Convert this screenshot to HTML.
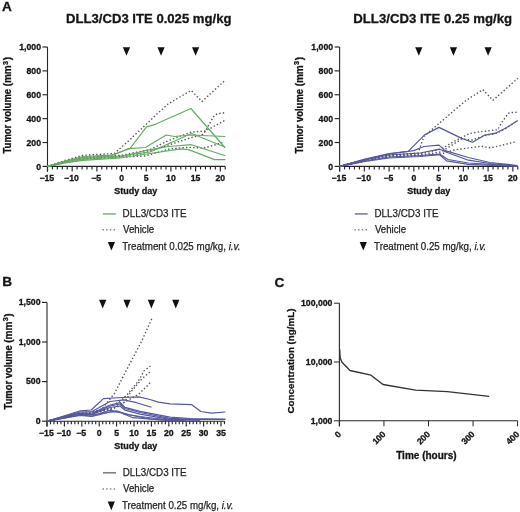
<!DOCTYPE html>
<html><head><meta charset="utf-8"><style>
html,body{margin:0;padding:0;background:#fff;}
svg{display:block;will-change:transform;}
text{font-family:"Liberation Sans", sans-serif;fill:#151515;stroke:#151515;stroke-width:0.3px;}
.leg{fill:#222;stroke:#222;stroke-width:0.25px;}
</style></head><body>
<svg width="520" height="512" viewBox="0 0 520 512">
<rect width="520" height="512" fill="#fff"/>
<line x1="47.50" y1="47.00" x2="47.50" y2="171.60" stroke="#262626" stroke-width="1.1"/>
<line x1="42.50" y1="166.40" x2="47.50" y2="166.40" stroke="#262626" stroke-width="1.15"/>
<text x="41.00" y="169.50" font-size="8.7" font-weight="bold" text-anchor="end" >0</text>
<line x1="42.50" y1="142.52" x2="47.50" y2="142.52" stroke="#262626" stroke-width="1.15"/>
<text x="41.00" y="145.62" font-size="8.7" font-weight="bold" text-anchor="end" >200</text>
<line x1="42.50" y1="118.64" x2="47.50" y2="118.64" stroke="#262626" stroke-width="1.15"/>
<text x="41.00" y="121.74" font-size="8.7" font-weight="bold" text-anchor="end" >400</text>
<line x1="42.50" y1="94.76" x2="47.50" y2="94.76" stroke="#262626" stroke-width="1.15"/>
<text x="41.00" y="97.86" font-size="8.7" font-weight="bold" text-anchor="end" >600</text>
<line x1="42.50" y1="70.88" x2="47.50" y2="70.88" stroke="#262626" stroke-width="1.15"/>
<text x="41.00" y="73.98" font-size="8.7" font-weight="bold" text-anchor="end" >800</text>
<line x1="42.50" y1="47.00" x2="47.50" y2="47.00" stroke="#262626" stroke-width="1.15"/>
<text x="41.00" y="50.10" font-size="8.7" font-weight="bold" text-anchor="end" >1,000</text>
<line x1="47.50" y1="166.40" x2="225.23" y2="166.40" stroke="#262626" stroke-width="1.1"/>
<line x1="47.50" y1="166.40" x2="47.50" y2="171.60" stroke="#262626" stroke-width="1.15"/>
<text x="46.80" y="181.00" font-size="8.7" font-weight="bold" text-anchor="middle" >−15</text>
<line x1="52.44" y1="166.40" x2="52.44" y2="169.40" stroke="#262626" stroke-width="1.15"/>
<line x1="57.37" y1="166.40" x2="57.37" y2="169.40" stroke="#262626" stroke-width="1.15"/>
<line x1="62.31" y1="166.40" x2="62.31" y2="169.40" stroke="#262626" stroke-width="1.15"/>
<line x1="67.25" y1="166.40" x2="67.25" y2="169.40" stroke="#262626" stroke-width="1.15"/>
<line x1="72.19" y1="166.40" x2="72.19" y2="171.60" stroke="#262626" stroke-width="1.15"/>
<text x="71.48" y="181.00" font-size="8.7" font-weight="bold" text-anchor="middle" >−10</text>
<line x1="77.12" y1="166.40" x2="77.12" y2="169.40" stroke="#262626" stroke-width="1.15"/>
<line x1="82.06" y1="166.40" x2="82.06" y2="169.40" stroke="#262626" stroke-width="1.15"/>
<line x1="87.00" y1="166.40" x2="87.00" y2="169.40" stroke="#262626" stroke-width="1.15"/>
<line x1="91.93" y1="166.40" x2="91.93" y2="169.40" stroke="#262626" stroke-width="1.15"/>
<line x1="96.87" y1="166.40" x2="96.87" y2="171.60" stroke="#262626" stroke-width="1.15"/>
<text x="96.17" y="181.00" font-size="8.7" font-weight="bold" text-anchor="middle" >−5</text>
<line x1="101.81" y1="166.40" x2="101.81" y2="169.40" stroke="#262626" stroke-width="1.15"/>
<line x1="106.74" y1="166.40" x2="106.74" y2="169.40" stroke="#262626" stroke-width="1.15"/>
<line x1="111.68" y1="166.40" x2="111.68" y2="169.40" stroke="#262626" stroke-width="1.15"/>
<line x1="116.62" y1="166.40" x2="116.62" y2="169.40" stroke="#262626" stroke-width="1.15"/>
<line x1="121.56" y1="166.40" x2="121.56" y2="171.60" stroke="#262626" stroke-width="1.15"/>
<text x="121.56" y="181.00" font-size="8.7" font-weight="bold" text-anchor="middle" >0</text>
<line x1="126.49" y1="166.40" x2="126.49" y2="169.40" stroke="#262626" stroke-width="1.15"/>
<line x1="131.43" y1="166.40" x2="131.43" y2="169.40" stroke="#262626" stroke-width="1.15"/>
<line x1="136.37" y1="166.40" x2="136.37" y2="169.40" stroke="#262626" stroke-width="1.15"/>
<line x1="141.30" y1="166.40" x2="141.30" y2="169.40" stroke="#262626" stroke-width="1.15"/>
<line x1="146.24" y1="166.40" x2="146.24" y2="171.60" stroke="#262626" stroke-width="1.15"/>
<text x="146.24" y="181.00" font-size="8.7" font-weight="bold" text-anchor="middle" >5</text>
<line x1="151.18" y1="166.40" x2="151.18" y2="169.40" stroke="#262626" stroke-width="1.15"/>
<line x1="156.11" y1="166.40" x2="156.11" y2="169.40" stroke="#262626" stroke-width="1.15"/>
<line x1="161.05" y1="166.40" x2="161.05" y2="169.40" stroke="#262626" stroke-width="1.15"/>
<line x1="165.99" y1="166.40" x2="165.99" y2="169.40" stroke="#262626" stroke-width="1.15"/>
<line x1="170.93" y1="166.40" x2="170.93" y2="171.60" stroke="#262626" stroke-width="1.15"/>
<text x="170.93" y="181.00" font-size="8.7" font-weight="bold" text-anchor="middle" >10</text>
<line x1="175.86" y1="166.40" x2="175.86" y2="169.40" stroke="#262626" stroke-width="1.15"/>
<line x1="180.80" y1="166.40" x2="180.80" y2="169.40" stroke="#262626" stroke-width="1.15"/>
<line x1="185.74" y1="166.40" x2="185.74" y2="169.40" stroke="#262626" stroke-width="1.15"/>
<line x1="190.67" y1="166.40" x2="190.67" y2="169.40" stroke="#262626" stroke-width="1.15"/>
<line x1="195.61" y1="166.40" x2="195.61" y2="171.60" stroke="#262626" stroke-width="1.15"/>
<text x="195.61" y="181.00" font-size="8.7" font-weight="bold" text-anchor="middle" >15</text>
<line x1="200.55" y1="166.40" x2="200.55" y2="169.40" stroke="#262626" stroke-width="1.15"/>
<line x1="205.48" y1="166.40" x2="205.48" y2="169.40" stroke="#262626" stroke-width="1.15"/>
<line x1="210.42" y1="166.40" x2="210.42" y2="169.40" stroke="#262626" stroke-width="1.15"/>
<line x1="215.36" y1="166.40" x2="215.36" y2="169.40" stroke="#262626" stroke-width="1.15"/>
<line x1="220.30" y1="166.40" x2="220.30" y2="171.60" stroke="#262626" stroke-width="1.15"/>
<text x="220.30" y="181.00" font-size="8.7" font-weight="bold" text-anchor="middle" >20</text>
<line x1="225.23" y1="166.40" x2="225.23" y2="169.40" stroke="#262626" stroke-width="1.15"/>
<text x="114.30" y="193.80" font-size="9" font-weight="bold" text-anchor="start" >Study day</text>
<text transform="translate(11.20,153.50) rotate(-90)" font-size="10" font-weight="bold" text-anchor="start" textLength="64.6" lengthAdjust="spacingAndGlyphs">Tumor volume</text>
<text transform="translate(11.20,57.00) rotate(-90)" font-size="10" font-weight="bold" text-anchor="end">(mm<tspan font-size="7.2" dy="-3.6" dx="0.3">3</tspan><tspan dy="3.6" dx="0.6">)</tspan></text>
<text x="66.00" y="22.60" font-size="13" font-weight="bold" text-anchor="start"  textLength="165.5" lengthAdjust="spacingAndGlyphs">DLL3/CD3 ITE 0.025 mg/kg</text>
<path d="M122.89,47.20L130.09,47.20L126.49,55.80Z" fill="#111"/>
<path d="M157.45,47.20L164.65,47.20L161.05,55.80Z" fill="#111"/>
<path d="M192.01,47.20L199.21,47.20L195.61,55.80Z" fill="#111"/>
<polyline points="47.5,166.4 65.0,160.5 83.0,155.3 114.3,153.5 130.0,139.6 155.4,115.5 168.1,104.0 180.8,96.4 191.2,90.5 202.0,101.5 224.6,80.7" fill="none" stroke="#555" stroke-width="1.4" stroke-linejoin="round" stroke-dasharray="1.4 2.2"/>
<polyline points="47.5,166.4 65.0,161.5 83.0,157.0 120.0,155.5 150.0,149.5 168.0,140.8 191.5,132.0 205.4,131.0 224.4,120.6" fill="none" stroke="#555" stroke-width="1.4" stroke-linejoin="round" stroke-dasharray="1.4 2.2"/>
<polyline points="47.5,166.4 65.0,162.0 83.0,158.0 120.0,156.0 141.0,154.0 190.0,138.0 203.4,134.3 214.2,115.7 217.1,113.8 224.2,112.8" fill="none" stroke="#555" stroke-width="1.4" stroke-linejoin="round" stroke-dasharray="1.4 2.2"/>
<polyline points="47.5,166.4 65.0,162.5 83.0,159.0 120.0,157.0 145.4,156.0 170.0,148.8 188.5,147.3 203.8,148.0 222.3,142.7" fill="none" stroke="#555" stroke-width="1.4" stroke-linejoin="round" stroke-dasharray="1.4 2.2"/>
<polyline points="47.5,166.4 65.0,161.0 83.0,156.5 111.0,155.2 130.0,148.5 146.5,126.9 155.4,124.3 190.9,108.5 224.9,147.5" fill="none" stroke="#62ad62" stroke-width="1.2" stroke-linejoin="round"/>
<polyline points="47.5,166.4 65.0,161.5 83.0,157.5 111.0,156.0 128.5,148.6 145.4,147.5 166.2,135.0 174.6,136.5 190.0,135.0 225.4,136.5" fill="none" stroke="#62ad62" stroke-width="1.2" stroke-linejoin="round"/>
<polyline points="47.5,166.4 65.0,162.0 83.0,158.5 120.0,156.0 150.0,152.0 191.5,133.5 225.4,147.3" fill="none" stroke="#62ad62" stroke-width="1.2" stroke-linejoin="round"/>
<polyline points="47.5,166.4 65.0,162.5 83.0,159.5 120.0,157.0 145.4,150.7 168.5,146.5 191.5,144.7 225.4,155.8" fill="none" stroke="#62ad62" stroke-width="1.2" stroke-linejoin="round"/>
<polyline points="47.5,166.4 65.0,163.0 83.0,160.3 120.0,158.0 150.0,153.5 180.8,148.8 188.5,149.6 214.6,159.6 225.4,159.6" fill="none" stroke="#62ad62" stroke-width="1.2" stroke-linejoin="round"/>
<line x1="102.90" y1="213.90" x2="115.80" y2="213.90" stroke="#80b880" stroke-width="1.6"/>
<text x="122.60" y="216.80" font-size="10.8" font-weight="normal" text-anchor="start" class="leg" textLength="64.0" lengthAdjust="spacingAndGlyphs">DLL3/CD3 ITE</text>
<line x1="102.40" y1="229.7" x2="115.80" y2="229.7" stroke="#888" stroke-width="1.5" stroke-dasharray="1.5 2.2"/>
<text x="123.00" y="232.60" font-size="10.8" font-weight="normal" text-anchor="start" class="leg" textLength="31.2" lengthAdjust="spacingAndGlyphs">Vehicle</text>
<path d="M107.80,242.00L115.00,242.00L111.40,250.60Z" fill="#111"/>
<text x="122.20" y="249.60" font-size="10.8" font-weight="normal" text-anchor="start" class="leg" textLength="118.3" lengthAdjust="spacingAndGlyphs">Treatment 0.025 mg/kg, <tspan font-style="italic">i.v.</tspan></text>
<line x1="339.60" y1="47.00" x2="339.60" y2="171.60" stroke="#262626" stroke-width="1.1"/>
<line x1="334.60" y1="166.40" x2="339.60" y2="166.40" stroke="#262626" stroke-width="1.15"/>
<text x="333.10" y="169.50" font-size="8.7" font-weight="bold" text-anchor="end" >0</text>
<line x1="334.60" y1="142.52" x2="339.60" y2="142.52" stroke="#262626" stroke-width="1.15"/>
<text x="333.10" y="145.62" font-size="8.7" font-weight="bold" text-anchor="end" >200</text>
<line x1="334.60" y1="118.64" x2="339.60" y2="118.64" stroke="#262626" stroke-width="1.15"/>
<text x="333.10" y="121.74" font-size="8.7" font-weight="bold" text-anchor="end" >400</text>
<line x1="334.60" y1="94.76" x2="339.60" y2="94.76" stroke="#262626" stroke-width="1.15"/>
<text x="333.10" y="97.86" font-size="8.7" font-weight="bold" text-anchor="end" >600</text>
<line x1="334.60" y1="70.88" x2="339.60" y2="70.88" stroke="#262626" stroke-width="1.15"/>
<text x="333.10" y="73.98" font-size="8.7" font-weight="bold" text-anchor="end" >800</text>
<line x1="334.60" y1="47.00" x2="339.60" y2="47.00" stroke="#262626" stroke-width="1.15"/>
<text x="333.10" y="50.10" font-size="8.7" font-weight="bold" text-anchor="end" >1,000</text>
<line x1="339.60" y1="166.40" x2="517.80" y2="166.40" stroke="#262626" stroke-width="1.1"/>
<line x1="339.60" y1="166.40" x2="339.60" y2="171.60" stroke="#262626" stroke-width="1.15"/>
<text x="338.90" y="181.00" font-size="8.7" font-weight="bold" text-anchor="middle" >−15</text>
<line x1="344.55" y1="166.40" x2="344.55" y2="169.40" stroke="#262626" stroke-width="1.15"/>
<line x1="349.50" y1="166.40" x2="349.50" y2="169.40" stroke="#262626" stroke-width="1.15"/>
<line x1="354.45" y1="166.40" x2="354.45" y2="169.40" stroke="#262626" stroke-width="1.15"/>
<line x1="359.40" y1="166.40" x2="359.40" y2="169.40" stroke="#262626" stroke-width="1.15"/>
<line x1="364.35" y1="166.40" x2="364.35" y2="171.60" stroke="#262626" stroke-width="1.15"/>
<text x="363.65" y="181.00" font-size="8.7" font-weight="bold" text-anchor="middle" >−10</text>
<line x1="369.30" y1="166.40" x2="369.30" y2="169.40" stroke="#262626" stroke-width="1.15"/>
<line x1="374.25" y1="166.40" x2="374.25" y2="169.40" stroke="#262626" stroke-width="1.15"/>
<line x1="379.20" y1="166.40" x2="379.20" y2="169.40" stroke="#262626" stroke-width="1.15"/>
<line x1="384.15" y1="166.40" x2="384.15" y2="169.40" stroke="#262626" stroke-width="1.15"/>
<line x1="389.10" y1="166.40" x2="389.10" y2="171.60" stroke="#262626" stroke-width="1.15"/>
<text x="388.40" y="181.00" font-size="8.7" font-weight="bold" text-anchor="middle" >−5</text>
<line x1="394.05" y1="166.40" x2="394.05" y2="169.40" stroke="#262626" stroke-width="1.15"/>
<line x1="399.00" y1="166.40" x2="399.00" y2="169.40" stroke="#262626" stroke-width="1.15"/>
<line x1="403.95" y1="166.40" x2="403.95" y2="169.40" stroke="#262626" stroke-width="1.15"/>
<line x1="408.90" y1="166.40" x2="408.90" y2="169.40" stroke="#262626" stroke-width="1.15"/>
<line x1="413.85" y1="166.40" x2="413.85" y2="171.60" stroke="#262626" stroke-width="1.15"/>
<text x="413.85" y="181.00" font-size="8.7" font-weight="bold" text-anchor="middle" >0</text>
<line x1="418.80" y1="166.40" x2="418.80" y2="169.40" stroke="#262626" stroke-width="1.15"/>
<line x1="423.75" y1="166.40" x2="423.75" y2="169.40" stroke="#262626" stroke-width="1.15"/>
<line x1="428.70" y1="166.40" x2="428.70" y2="169.40" stroke="#262626" stroke-width="1.15"/>
<line x1="433.65" y1="166.40" x2="433.65" y2="169.40" stroke="#262626" stroke-width="1.15"/>
<line x1="438.60" y1="166.40" x2="438.60" y2="171.60" stroke="#262626" stroke-width="1.15"/>
<text x="438.60" y="181.00" font-size="8.7" font-weight="bold" text-anchor="middle" >5</text>
<line x1="443.55" y1="166.40" x2="443.55" y2="169.40" stroke="#262626" stroke-width="1.15"/>
<line x1="448.50" y1="166.40" x2="448.50" y2="169.40" stroke="#262626" stroke-width="1.15"/>
<line x1="453.45" y1="166.40" x2="453.45" y2="169.40" stroke="#262626" stroke-width="1.15"/>
<line x1="458.40" y1="166.40" x2="458.40" y2="169.40" stroke="#262626" stroke-width="1.15"/>
<line x1="463.35" y1="166.40" x2="463.35" y2="171.60" stroke="#262626" stroke-width="1.15"/>
<text x="463.35" y="181.00" font-size="8.7" font-weight="bold" text-anchor="middle" >10</text>
<line x1="468.30" y1="166.40" x2="468.30" y2="169.40" stroke="#262626" stroke-width="1.15"/>
<line x1="473.25" y1="166.40" x2="473.25" y2="169.40" stroke="#262626" stroke-width="1.15"/>
<line x1="478.20" y1="166.40" x2="478.20" y2="169.40" stroke="#262626" stroke-width="1.15"/>
<line x1="483.15" y1="166.40" x2="483.15" y2="169.40" stroke="#262626" stroke-width="1.15"/>
<line x1="488.10" y1="166.40" x2="488.10" y2="171.60" stroke="#262626" stroke-width="1.15"/>
<text x="488.10" y="181.00" font-size="8.7" font-weight="bold" text-anchor="middle" >15</text>
<line x1="493.05" y1="166.40" x2="493.05" y2="169.40" stroke="#262626" stroke-width="1.15"/>
<line x1="498.00" y1="166.40" x2="498.00" y2="169.40" stroke="#262626" stroke-width="1.15"/>
<line x1="502.95" y1="166.40" x2="502.95" y2="169.40" stroke="#262626" stroke-width="1.15"/>
<line x1="507.90" y1="166.40" x2="507.90" y2="169.40" stroke="#262626" stroke-width="1.15"/>
<line x1="512.85" y1="166.40" x2="512.85" y2="171.60" stroke="#262626" stroke-width="1.15"/>
<text x="512.85" y="181.00" font-size="8.7" font-weight="bold" text-anchor="middle" >20</text>
<line x1="517.80" y1="166.40" x2="517.80" y2="169.40" stroke="#262626" stroke-width="1.15"/>
<text x="407.30" y="193.80" font-size="9" font-weight="bold" text-anchor="start" >Study day</text>
<text transform="translate(302.80,153.50) rotate(-90)" font-size="10" font-weight="bold" text-anchor="start" textLength="64.6" lengthAdjust="spacingAndGlyphs">Tumor volume</text>
<text transform="translate(302.80,57.00) rotate(-90)" font-size="10" font-weight="bold" text-anchor="end">(mm<tspan font-size="7.2" dy="-3.6" dx="0.3">3</tspan><tspan dy="3.6" dx="0.6">)</tspan></text>
<text x="353.30" y="22.60" font-size="13" font-weight="bold" text-anchor="start"  textLength="158.8" lengthAdjust="spacingAndGlyphs">DLL3/CD3 ITE 0.25 mg/kg</text>
<path d="M415.20,47.20L422.40,47.20L418.80,55.80Z" fill="#111"/>
<path d="M449.85,47.20L457.05,47.20L453.45,55.80Z" fill="#111"/>
<path d="M484.50,47.20L491.70,47.20L488.10,55.80Z" fill="#111"/>
<polyline points="339.6,166.4 365.0,159.5 389.0,155.0 418.0,153.0 424.0,136.3 465.7,100.7 482.8,89.7 493.0,100.3 517.8,78.3" fill="none" stroke="#555" stroke-width="1.4" stroke-linejoin="round" stroke-dasharray="1.4 2.2"/>
<polyline points="339.6,166.4 365.0,160.0 389.0,155.5 420.0,154.0 441.0,149.2 454.7,141.0 469.5,133.5 480.0,131.7 497.6,129.8 502.4,121.5 507.3,114.6 509.3,112.7 517.6,112.2" fill="none" stroke="#555" stroke-width="1.4" stroke-linejoin="round" stroke-dasharray="1.4 2.2"/>
<polyline points="339.6,166.4 365.0,160.5 389.0,156.0 420.0,155.0 441.0,152.0 461.7,139.0 472.0,140.0 484.9,135.5 495.6,133.6 505.4,128.7 517.6,120.9" fill="none" stroke="#555" stroke-width="1.4" stroke-linejoin="round" stroke-dasharray="1.4 2.2"/>
<polyline points="339.6,166.4 365.0,161.0 389.0,157.0 420.0,156.0 441.0,154.0 453.9,150.0 481.3,146.2 490.7,147.8 499.5,145.9 514.6,142.0" fill="none" stroke="#555" stroke-width="1.4" stroke-linejoin="round" stroke-dasharray="1.4 2.2"/>
<polyline points="339.6,166.4 365.0,159.0 389.0,153.5 408.2,151.3 424.6,134.9 439.0,127.4 461.7,138.4 472.5,142.3 484.9,135.1 495.6,133.2 505.4,128.3 517.6,120.5" fill="none" stroke="#5558a0" stroke-width="1.2" stroke-linejoin="round"/>
<polyline points="339.6,166.4 365.0,159.5 389.0,154.0 413.7,150.6 424.0,146.5 439.0,145.1 445.1,150.6 468.4,157.5 490.0,162.5 517.4,165.5" fill="none" stroke="#5558a0" stroke-width="1.2" stroke-linejoin="round"/>
<polyline points="339.6,166.4 365.0,160.0 389.0,155.0 420.0,153.0 439.7,149.2 447.9,152.7 468.4,160.2 490.0,163.5 517.4,166.0" fill="none" stroke="#5558a0" stroke-width="1.2" stroke-linejoin="round"/>
<polyline points="339.6,166.4 365.0,161.0 389.0,157.0 420.0,155.5 439.7,154.0 447.9,159.5 468.4,163.0 517.4,166.2" fill="none" stroke="#5558a0" stroke-width="1.2" stroke-linejoin="round"/>
<polyline points="339.6,166.4 365.0,161.5 389.0,158.0 420.0,156.5 439.7,154.7 446.5,160.9 468.4,164.3 517.4,166.4" fill="none" stroke="#5558a0" stroke-width="1.2" stroke-linejoin="round"/>
<line x1="354.80" y1="213.90" x2="367.70" y2="213.90" stroke="#7b7da8" stroke-width="1.6"/>
<text x="374.50" y="216.80" font-size="10.8" font-weight="normal" text-anchor="start" class="leg" textLength="64.0" lengthAdjust="spacingAndGlyphs">DLL3/CD3 ITE</text>
<line x1="354.30" y1="229.7" x2="367.70" y2="229.7" stroke="#888" stroke-width="1.5" stroke-dasharray="1.5 2.2"/>
<text x="374.90" y="232.60" font-size="10.8" font-weight="normal" text-anchor="start" class="leg" textLength="31.2" lengthAdjust="spacingAndGlyphs">Vehicle</text>
<path d="M359.70,242.00L366.90,242.00L363.30,250.60Z" fill="#111"/>
<text x="374.10" y="249.60" font-size="10.8" font-weight="normal" text-anchor="start" class="leg" textLength="112.0" lengthAdjust="spacingAndGlyphs">Treatment 0.25 mg/kg, <tspan font-style="italic">i.v.</tspan></text>
<text x="2.00" y="10.80" font-size="13.6" font-weight="bold" text-anchor="start" >A</text>
<line x1="47.00" y1="302.40" x2="47.00" y2="426.40" stroke="#262626" stroke-width="1.1"/>
<line x1="42.00" y1="421.20" x2="47.00" y2="421.20" stroke="#262626" stroke-width="1.15"/>
<text x="40.50" y="423.90" font-size="8.7" font-weight="bold" text-anchor="end" >0</text>
<line x1="42.00" y1="381.60" x2="47.00" y2="381.60" stroke="#262626" stroke-width="1.15"/>
<text x="40.50" y="384.30" font-size="8.7" font-weight="bold" text-anchor="end" >500</text>
<line x1="42.00" y1="342.00" x2="47.00" y2="342.00" stroke="#262626" stroke-width="1.15"/>
<text x="40.50" y="344.70" font-size="8.7" font-weight="bold" text-anchor="end" >1,000</text>
<line x1="42.00" y1="302.40" x2="47.00" y2="302.40" stroke="#262626" stroke-width="1.15"/>
<text x="40.50" y="305.10" font-size="8.7" font-weight="bold" text-anchor="end" >1,500</text>
<line x1="47.00" y1="421.20" x2="224.48" y2="421.20" stroke="#262626" stroke-width="1.1"/>
<line x1="47.00" y1="421.20" x2="47.00" y2="426.40" stroke="#262626" stroke-width="1.15"/>
<text x="46.40" y="435.90" font-size="8.7" font-weight="bold" text-anchor="middle" >−15</text>
<line x1="50.48" y1="421.20" x2="50.48" y2="424.20" stroke="#262626" stroke-width="1.15"/>
<line x1="53.96" y1="421.20" x2="53.96" y2="424.20" stroke="#262626" stroke-width="1.15"/>
<line x1="57.44" y1="421.20" x2="57.44" y2="424.20" stroke="#262626" stroke-width="1.15"/>
<line x1="60.92" y1="421.20" x2="60.92" y2="424.20" stroke="#262626" stroke-width="1.15"/>
<line x1="64.40" y1="421.20" x2="64.40" y2="426.40" stroke="#262626" stroke-width="1.15"/>
<text x="63.80" y="435.90" font-size="8.7" font-weight="bold" text-anchor="middle" >−10</text>
<line x1="67.88" y1="421.20" x2="67.88" y2="424.20" stroke="#262626" stroke-width="1.15"/>
<line x1="71.36" y1="421.20" x2="71.36" y2="424.20" stroke="#262626" stroke-width="1.15"/>
<line x1="74.84" y1="421.20" x2="74.84" y2="424.20" stroke="#262626" stroke-width="1.15"/>
<line x1="78.32" y1="421.20" x2="78.32" y2="424.20" stroke="#262626" stroke-width="1.15"/>
<line x1="81.80" y1="421.20" x2="81.80" y2="426.40" stroke="#262626" stroke-width="1.15"/>
<text x="81.20" y="435.90" font-size="8.7" font-weight="bold" text-anchor="middle" >−5</text>
<line x1="85.28" y1="421.20" x2="85.28" y2="424.20" stroke="#262626" stroke-width="1.15"/>
<line x1="88.76" y1="421.20" x2="88.76" y2="424.20" stroke="#262626" stroke-width="1.15"/>
<line x1="92.24" y1="421.20" x2="92.24" y2="424.20" stroke="#262626" stroke-width="1.15"/>
<line x1="95.72" y1="421.20" x2="95.72" y2="424.20" stroke="#262626" stroke-width="1.15"/>
<line x1="99.20" y1="421.20" x2="99.20" y2="426.40" stroke="#262626" stroke-width="1.15"/>
<text x="99.20" y="435.90" font-size="8.7" font-weight="bold" text-anchor="middle" >0</text>
<line x1="102.68" y1="421.20" x2="102.68" y2="424.20" stroke="#262626" stroke-width="1.15"/>
<line x1="106.16" y1="421.20" x2="106.16" y2="424.20" stroke="#262626" stroke-width="1.15"/>
<line x1="109.64" y1="421.20" x2="109.64" y2="424.20" stroke="#262626" stroke-width="1.15"/>
<line x1="113.12" y1="421.20" x2="113.12" y2="424.20" stroke="#262626" stroke-width="1.15"/>
<line x1="116.60" y1="421.20" x2="116.60" y2="426.40" stroke="#262626" stroke-width="1.15"/>
<text x="116.60" y="435.90" font-size="8.7" font-weight="bold" text-anchor="middle" >5</text>
<line x1="120.08" y1="421.20" x2="120.08" y2="424.20" stroke="#262626" stroke-width="1.15"/>
<line x1="123.56" y1="421.20" x2="123.56" y2="424.20" stroke="#262626" stroke-width="1.15"/>
<line x1="127.04" y1="421.20" x2="127.04" y2="424.20" stroke="#262626" stroke-width="1.15"/>
<line x1="130.52" y1="421.20" x2="130.52" y2="424.20" stroke="#262626" stroke-width="1.15"/>
<line x1="134.00" y1="421.20" x2="134.00" y2="426.40" stroke="#262626" stroke-width="1.15"/>
<text x="134.00" y="435.90" font-size="8.7" font-weight="bold" text-anchor="middle" >10</text>
<line x1="137.48" y1="421.20" x2="137.48" y2="424.20" stroke="#262626" stroke-width="1.15"/>
<line x1="140.96" y1="421.20" x2="140.96" y2="424.20" stroke="#262626" stroke-width="1.15"/>
<line x1="144.44" y1="421.20" x2="144.44" y2="424.20" stroke="#262626" stroke-width="1.15"/>
<line x1="147.92" y1="421.20" x2="147.92" y2="424.20" stroke="#262626" stroke-width="1.15"/>
<line x1="151.40" y1="421.20" x2="151.40" y2="426.40" stroke="#262626" stroke-width="1.15"/>
<text x="151.40" y="435.90" font-size="8.7" font-weight="bold" text-anchor="middle" >15</text>
<line x1="154.88" y1="421.20" x2="154.88" y2="424.20" stroke="#262626" stroke-width="1.15"/>
<line x1="158.36" y1="421.20" x2="158.36" y2="424.20" stroke="#262626" stroke-width="1.15"/>
<line x1="161.84" y1="421.20" x2="161.84" y2="424.20" stroke="#262626" stroke-width="1.15"/>
<line x1="165.32" y1="421.20" x2="165.32" y2="424.20" stroke="#262626" stroke-width="1.15"/>
<line x1="168.80" y1="421.20" x2="168.80" y2="426.40" stroke="#262626" stroke-width="1.15"/>
<text x="168.80" y="435.90" font-size="8.7" font-weight="bold" text-anchor="middle" >20</text>
<line x1="172.28" y1="421.20" x2="172.28" y2="424.20" stroke="#262626" stroke-width="1.15"/>
<line x1="175.76" y1="421.20" x2="175.76" y2="424.20" stroke="#262626" stroke-width="1.15"/>
<line x1="179.24" y1="421.20" x2="179.24" y2="424.20" stroke="#262626" stroke-width="1.15"/>
<line x1="182.72" y1="421.20" x2="182.72" y2="424.20" stroke="#262626" stroke-width="1.15"/>
<line x1="186.20" y1="421.20" x2="186.20" y2="426.40" stroke="#262626" stroke-width="1.15"/>
<text x="186.20" y="435.90" font-size="8.7" font-weight="bold" text-anchor="middle" >25</text>
<line x1="189.68" y1="421.20" x2="189.68" y2="424.20" stroke="#262626" stroke-width="1.15"/>
<line x1="193.16" y1="421.20" x2="193.16" y2="424.20" stroke="#262626" stroke-width="1.15"/>
<line x1="196.64" y1="421.20" x2="196.64" y2="424.20" stroke="#262626" stroke-width="1.15"/>
<line x1="200.12" y1="421.20" x2="200.12" y2="424.20" stroke="#262626" stroke-width="1.15"/>
<line x1="203.60" y1="421.20" x2="203.60" y2="426.40" stroke="#262626" stroke-width="1.15"/>
<text x="203.60" y="435.90" font-size="8.7" font-weight="bold" text-anchor="middle" >30</text>
<line x1="207.08" y1="421.20" x2="207.08" y2="424.20" stroke="#262626" stroke-width="1.15"/>
<line x1="210.56" y1="421.20" x2="210.56" y2="424.20" stroke="#262626" stroke-width="1.15"/>
<line x1="214.04" y1="421.20" x2="214.04" y2="424.20" stroke="#262626" stroke-width="1.15"/>
<line x1="217.52" y1="421.20" x2="217.52" y2="424.20" stroke="#262626" stroke-width="1.15"/>
<line x1="221.00" y1="421.20" x2="221.00" y2="426.40" stroke="#262626" stroke-width="1.15"/>
<text x="221.00" y="435.90" font-size="8.7" font-weight="bold" text-anchor="middle" >35</text>
<line x1="224.48" y1="421.20" x2="224.48" y2="424.20" stroke="#262626" stroke-width="1.15"/>
<text x="114.30" y="448.50" font-size="9" font-weight="bold" text-anchor="start" >Study day</text>
<text transform="translate(11.50,409.40) rotate(-90)" font-size="10" font-weight="bold" text-anchor="start" textLength="64.0" lengthAdjust="spacingAndGlyphs">Tumor volume</text>
<text transform="translate(11.50,313.40) rotate(-90)" font-size="10" font-weight="bold" text-anchor="end">(mm<tspan font-size="7.2" dy="-3.6" dx="0.3">3</tspan><tspan dy="3.6" dx="0.6">)</tspan></text>
<text x="2.20" y="285.80" font-size="13.6" font-weight="bold" text-anchor="start" >B</text>
<path d="M99.08,299.80L106.28,299.80L102.68,308.40Z" fill="#111"/>
<path d="M123.44,299.80L130.64,299.80L127.04,308.40Z" fill="#111"/>
<path d="M147.80,299.80L155.00,299.80L151.40,308.40Z" fill="#111"/>
<path d="M172.16,299.80L179.36,299.80L175.76,308.40Z" fill="#111"/>
<polyline points="47.0,421.2 80.0,413.0 92.0,412.0 102.0,409.0 106.7,403.2 114.5,393.4 126.2,370.5 141.4,341.8 151.8,318.7" fill="none" stroke="#555" stroke-width="1.4" stroke-linejoin="round" stroke-dasharray="1.4 2.2"/>
<polyline points="47.0,421.2 80.0,413.5 92.0,413.0 110.0,408.0 122.3,399.2 126.7,395.1 138.4,381.0 144.3,370.5 150.8,365.8" fill="none" stroke="#555" stroke-width="1.4" stroke-linejoin="round" stroke-dasharray="1.4 2.2"/>
<polyline points="47.0,421.2 80.0,414.0 92.0,413.5 112.0,409.0 125.0,401.9 130.2,392.8 142.0,378.7 150.2,371.7" fill="none" stroke="#555" stroke-width="1.4" stroke-linejoin="round" stroke-dasharray="1.4 2.2"/>
<polyline points="47.0,421.2 80.0,414.5 92.0,414.0 116.9,407.3 123.6,402.6 138.4,394.5 145.5,387.5 151.3,381.6" fill="none" stroke="#555" stroke-width="1.4" stroke-linejoin="round" stroke-dasharray="1.4 2.2"/>
<polyline points="47.0,421.2 80.4,410.8 91.2,410.0 103.5,398.6 121.5,397.5 138.8,396.9 150.0,399.5 158.4,402.1 170.0,403.8 191.5,404.6 200.8,411.5 211.5,413.1 225.4,412.0" fill="none" stroke="#5558a0" stroke-width="1.2" stroke-linejoin="round"/>
<polyline points="47.0,421.2 80.0,412.0 92.0,411.5 110.0,401.5 123.8,399.8 136.5,402.7 151.5,407.3" fill="none" stroke="#5558a0" stroke-width="1.2" stroke-linejoin="round"/>
<polyline points="47.0,421.2 80.0,413.0 92.0,413.0 110.0,405.0 120.4,402.7 125.0,407.3 140.0,411.3 170.0,417.1 190.0,418.5 225.4,419.0" fill="none" stroke="#5558a0" stroke-width="1.2" stroke-linejoin="round"/>
<polyline points="47.0,421.2 80.0,413.5 92.0,414.0 110.0,406.0 120.0,404.0 125.0,408.5 140.0,412.5 170.0,418.3 200.0,419.5 225.4,419.5" fill="none" stroke="#5558a0" stroke-width="1.2" stroke-linejoin="round"/>
<polyline points="47.0,421.2 80.0,414.0 92.0,414.5 110.0,407.5 120.0,406.0 125.0,410.2 140.0,414.2 170.0,419.4 200.0,419.8" fill="none" stroke="#5558a0" stroke-width="1.2" stroke-linejoin="round"/>
<polyline points="47.0,421.2 80.0,414.5 92.0,415.0 116.9,410.8 125.0,414.2 140.0,416.5 170.0,420.0 200.0,420.2" fill="none" stroke="#5558a0" stroke-width="1.2" stroke-linejoin="round"/>
<polyline points="47.0,421.2 80.0,415.0 92.0,416.0 110.0,410.2 121.5,413.0 133.0,417.7 170.0,420.6 185.0,420.6" fill="none" stroke="#5558a0" stroke-width="1.2" stroke-linejoin="round"/>
<polyline points="47.0,421.2 80.0,415.5 92.0,416.5 110.0,412.0 120.0,412.0 130.0,415.0 150.0,419.0 170.0,420.5" fill="none" stroke="#5558a0" stroke-width="1.2" stroke-linejoin="round"/>
<line x1="103.00" y1="472.80" x2="116.00" y2="472.80" stroke="#7b7da8" stroke-width="1.6"/>
<text x="122.70" y="476.00" font-size="10.8" font-weight="normal" text-anchor="start" class="leg" textLength="64.0" lengthAdjust="spacingAndGlyphs">DLL3/CD3 ITE</text>
<line x1="102.50" y1="488.9" x2="115.10" y2="488.9" stroke="#888" stroke-width="1.5" stroke-dasharray="1.5 2.2"/>
<text x="123.00" y="491.80" font-size="10.8" font-weight="normal" text-anchor="start" class="leg" textLength="31.2" lengthAdjust="spacingAndGlyphs">Vehicle</text>
<path d="M107.70,501.60L114.90,501.60L111.30,510.20Z" fill="#111"/>
<text x="121.90" y="508.80" font-size="10.8" font-weight="normal" text-anchor="start" class="leg" textLength="111.5" lengthAdjust="spacingAndGlyphs">Treatment 0.25 mg/kg, <tspan font-style="italic">i.v.</tspan></text>
<line x1="339.40" y1="303.20" x2="339.40" y2="426.30" stroke="#262626" stroke-width="1.1"/>
<line x1="333.90" y1="420.80" x2="339.40" y2="420.80" stroke="#262626" stroke-width="1.0"/>
<text x="332.40" y="423.90" font-size="8.7" font-weight="bold" text-anchor="end" >1,000</text>
<line x1="333.90" y1="362.00" x2="339.40" y2="362.00" stroke="#262626" stroke-width="1.0"/>
<text x="332.40" y="365.10" font-size="8.7" font-weight="bold" text-anchor="end" >10,000</text>
<line x1="333.90" y1="303.20" x2="339.40" y2="303.20" stroke="#262626" stroke-width="1.0"/>
<text x="332.40" y="306.30" font-size="8.7" font-weight="bold" text-anchor="end" >100,000</text>
<line x1="339.40" y1="420.80" x2="517.60" y2="420.80" stroke="#262626" stroke-width="1.1"/>
<line x1="339.40" y1="420.80" x2="339.40" y2="426.30" stroke="#262626" stroke-width="1.0"/>
<text transform="translate(341.60,434.80) rotate(-45)" font-size="8.7" font-weight="bold" text-anchor="end">0</text>
<line x1="383.95" y1="420.80" x2="383.95" y2="426.30" stroke="#262626" stroke-width="1.0"/>
<text transform="translate(386.15,434.80) rotate(-45)" font-size="8.7" font-weight="bold" text-anchor="end">100</text>
<line x1="428.50" y1="420.80" x2="428.50" y2="426.30" stroke="#262626" stroke-width="1.0"/>
<text transform="translate(430.70,434.80) rotate(-45)" font-size="8.7" font-weight="bold" text-anchor="end">200</text>
<line x1="473.05" y1="420.80" x2="473.05" y2="426.30" stroke="#262626" stroke-width="1.0"/>
<text transform="translate(475.25,434.80) rotate(-45)" font-size="8.7" font-weight="bold" text-anchor="end">300</text>
<line x1="517.60" y1="420.80" x2="517.60" y2="426.30" stroke="#262626" stroke-width="1.0"/>
<text transform="translate(519.80,434.80) rotate(-45)" font-size="8.7" font-weight="bold" text-anchor="end">400</text>
<text x="396.20" y="458.60" font-size="10" font-weight="bold" text-anchor="start" >Time (hours)</text>
<text transform="translate(293.8,361.0) rotate(-90)" font-size="9.8" font-weight="bold" text-anchor="middle">Concentration (ng/mL)</text>
<text x="274.40" y="287.10" font-size="13.6" font-weight="bold" text-anchor="start" >C</text>
<polyline points="339.6,349.0 340.2,358.0 342.0,362.2 350.0,370.5 371.0,375.2 383.0,384.5 415.6,390.2 447.3,391.7 489.2,396.3" fill="none" stroke="#333" stroke-width="1.35" stroke-linejoin="round"/>
</svg></body></html>
